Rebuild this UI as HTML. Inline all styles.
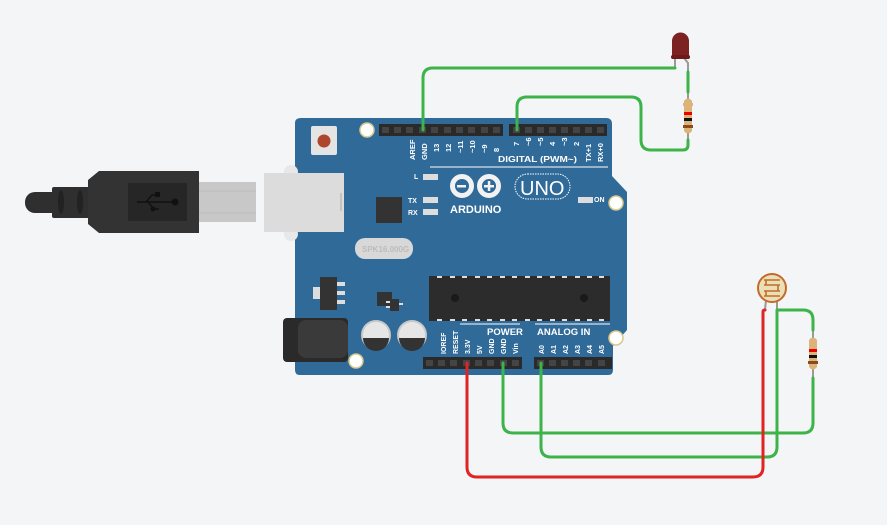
<!DOCTYPE html>
<html><head><meta charset="utf-8"><style>
html,body{margin:0;padding:0;background:#f3f5f7;}
svg{display:block;}
text{font-family:"Liberation Sans",sans-serif;font-weight:bold;fill:#fff;}
</style></head><body>
<svg width="887" height="525" viewBox="0 0 887 525" xmlns="http://www.w3.org/2000/svg">
<rect width="887" height="525" fill="#f3f5f7"/>
<!-- USB cable -->
<rect x="25" y="192" width="40" height="21" rx="10" fill="#2f2f2f"/>
<rect x="52" y="187" width="38" height="31" rx="2" fill="#2f2f2f"/>
<ellipse cx="61" cy="202" rx="3" ry="12" fill="#222"/>
<ellipse cx="80" cy="202" rx="3" ry="12" fill="#222"/>
<path d="M88 180 L99 171 H199 V233 H99 L88 224 Z" fill="#333"/>
<rect x="128" y="183" width="59" height="38" fill="#262626"/>
<g stroke="#111" stroke-width="1.5" fill="none"><line x1="137" y1="202" x2="175" y2="202"/><path d="M146 202 L152 195 H158"/><path d="M148 202 L154 209 H159"/></g>
<circle cx="175" cy="202" r="3.5" fill="#111"/><rect x="155" y="192" width="5" height="5" fill="#111"/><circle cx="153" cy="209" r="2.5" fill="#111"/>
<rect x="199" y="182" width="57" height="40" fill="#c8c8c8"/>
<line x1="199" y1="191" x2="256" y2="191" stroke="#bdbdbd"/><line x1="199" y1="213" x2="256" y2="213" stroke="#bdbdbd"/>
<!-- Board -->
<path d="M301 118 H606 Q612 118 612 124 V176 L627 192 V330 L613 346 V370 Q613 375 608 375 H300 Q295 375 295 370 V123 Q295 118 301 118 Z" fill="#2f6a99"/>
<!-- usb jack -->
<circle cx="291" cy="172" r="7" fill="#e8e8e8"/><circle cx="291" cy="234" r="7" fill="#e8e8e8"/>
<rect x="264" y="173" width="80" height="59" fill="#dcdcdc"/>
<line x1="341" y1="193" x2="341" y2="211" stroke="#aaa"/>
<!-- reset -->
<rect x="311" y="126" width="26" height="29" rx="2" fill="#e4e4e4"/>
<circle cx="324" cy="141" r="6.5" fill="#b0452d"/>
<!-- holes -->
<g fill="#fff" stroke="#d8c88a" stroke-width="1.5"><circle cx="367" cy="130" r="7"/><circle cx="616" cy="203" r="7"/><circle cx="616" cy="338" r="7"/><circle cx="356" cy="361" r="7"/></g>
<!-- headers top -->
<rect x="379" y="124" width="124" height="12" fill="#2a2a2a"/>
<rect x="509" y="124" width="98" height="12" fill="#2a2a2a"/>
<g fill="#444">
<rect x="382" y="127" width="7" height="6"/><rect x="394" y="127" width="7" height="6"/><rect x="406" y="127" width="7" height="6"/><rect x="419" y="127" width="7" height="6"/><rect x="431" y="127" width="7" height="6"/><rect x="444" y="127" width="7" height="6"/><rect x="456" y="127" width="7" height="6"/><rect x="468" y="127" width="7" height="6"/><rect x="481" y="127" width="7" height="6"/><rect x="493" y="127" width="7" height="6"/>
<rect x="513" y="127" width="7" height="6"/><rect x="525" y="127" width="7" height="6"/><rect x="537" y="127" width="7" height="6"/><rect x="549" y="127" width="7" height="6"/><rect x="561" y="127" width="7" height="6"/><rect x="573" y="127" width="7" height="6"/><rect x="585" y="127" width="7" height="6"/><rect x="597" y="127" width="7" height="6"/>
</g>
<g font-size="7.5">
<text transform="translate(415,160) rotate(-90)">AREF</text><text transform="translate(427,160) rotate(-90)">GND</text>
<text transform="translate(439,152) rotate(-90)">13</text><text transform="translate(451,152) rotate(-90)">12</text>
<text transform="translate(463,153) rotate(-90)">~11</text><text transform="translate(475,153) rotate(-90)">~10</text>
<text transform="translate(487,153) rotate(-90)">~9</text><text transform="translate(499,152) rotate(-90)">8</text>
<text transform="translate(519,146) rotate(-90)">7</text><text transform="translate(531,146) rotate(-90)">~6</text>
<text transform="translate(543,146) rotate(-90)">~5</text><text transform="translate(555,146) rotate(-90)">4</text>
<text transform="translate(567,146) rotate(-90)">~3</text><text transform="translate(579,146) rotate(-90)">2</text>
<text transform="translate(591,162) rotate(-90)">TX+1</text><text transform="translate(603,162) rotate(-90)">RX+0</text>
</g>
<text x="498" y="162" font-size="8.5" textLength="79" lengthAdjust="spacingAndGlyphs">DIGITAL (PWM~)</text>
<line x1="430" y1="167" x2="608" y2="167" stroke="#fff" stroke-width="1"/>
<!-- LEDs -->
<g font-size="7"><text x="414" y="179">L</text><text x="408" y="203">TX</text><text x="408" y="215">RX</text><text x="594" y="202">ON</text></g>
<g fill="#ddd"><rect x="423" y="174" width="15" height="6"/><rect x="423" y="197" width="15" height="6"/><rect x="423" y="209" width="15" height="6"/><rect x="578" y="197" width="15" height="6"/></g>
<!-- logo -->
<circle cx="462" cy="186" r="9.5" fill="none" stroke="#f2f2f2" stroke-width="5"/>
<circle cx="489" cy="186" r="9.5" fill="none" stroke="#f2f2f2" stroke-width="5"/>
<rect x="457" y="185" width="9" height="2.5" fill="#f2f2f2"/><rect x="484" y="185" width="10" height="2.5" fill="#f2f2f2"/><rect x="487.8" y="181" width="2.5" height="10" fill="#f2f2f2"/>
<text x="450" y="213" font-size="11" fill="#f2f2f2">ARDUINO</text>
<rect x="515" y="174" width="55" height="25" rx="12.5" fill="none" stroke="#fff" stroke-width="1" stroke-dasharray="1.5,1"/>
<text x="520" y="195" font-size="20" style="font-weight:normal">UNO</text>
<!-- chips -->
<rect x="376" y="197" width="26" height="26" fill="#333"/>
<rect x="355" y="238" width="58" height="21" rx="10" fill="#d8d8d8"/>
<text x="362" y="252" font-size="8" style="fill:#bcbcbc">SPK16.000G</text>
<rect x="377" y="292" width="15" height="14" fill="#333"/>
<rect x="390" y="299" width="9" height="12" fill="#333"/><rect x="386" y="301" width="4" height="2" fill="#ddd"/><rect x="386" y="306" width="4" height="2" fill="#ddd"/><rect x="399" y="303" width="4" height="2" fill="#ddd"/>
<rect x="313" y="287" width="7" height="12" fill="#ddd"/>
<rect x="320" y="277" width="17" height="33" fill="#333"/>
<rect x="337" y="282" width="8" height="4" fill="#ddd"/><rect x="337" y="291" width="8" height="4" fill="#ddd"/><rect x="337" y="300" width="8" height="4" fill="#ddd"/>
<rect x="429" y="276" width="181" height="45" fill="#2c2c2c"/>
<g fill="#ddd"><rect x="437" y="276" width="5" height="2"/><rect x="450" y="276" width="5" height="2"/><rect x="462" y="276" width="5" height="2"/><rect x="475" y="276" width="5" height="2"/><rect x="487" y="276" width="5" height="2"/><rect x="500" y="276" width="5" height="2"/><rect x="512" y="276" width="5" height="2"/><rect x="525" y="276" width="5" height="2"/><rect x="537" y="276" width="5" height="2"/><rect x="550" y="276" width="5" height="2"/><rect x="562" y="276" width="5" height="2"/><rect x="575" y="276" width="5" height="2"/><rect x="587" y="276" width="5" height="2"/><rect x="599" y="276" width="5" height="2"/>
<rect x="437" y="319" width="5" height="2"/><rect x="450" y="319" width="5" height="2"/><rect x="462" y="319" width="5" height="2"/><rect x="475" y="319" width="5" height="2"/><rect x="487" y="319" width="5" height="2"/><rect x="500" y="319" width="5" height="2"/><rect x="512" y="319" width="5" height="2"/><rect x="525" y="319" width="5" height="2"/><rect x="537" y="319" width="5" height="2"/><rect x="550" y="319" width="5" height="2"/><rect x="562" y="319" width="5" height="2"/><rect x="575" y="319" width="5" height="2"/><rect x="587" y="319" width="5" height="2"/><rect x="599" y="319" width="5" height="2"/></g>
<circle cx="455" cy="298" r="4" fill="#1a1a1a"/><circle cx="584" cy="298" r="4" fill="#1a1a1a"/>
<!-- power jack -->
<rect x="283" y="318" width="65" height="44" rx="4" fill="#2a2a2a"/>
<rect x="298" y="320" width="50" height="38" rx="8" fill="#3a3a3a"/>
<!-- caps -->
<circle cx="376" cy="335" r="15" fill="#c9c9c9"/><circle cx="376" cy="335" r="13" fill="#e6e6e6"/><path d="M363 338 H389 A13 13 0 0 1 363 338 Z" fill="#333"/>
<circle cx="412" cy="335" r="15" fill="#c9c9c9"/><circle cx="412" cy="335" r="13" fill="#e6e6e6"/><path d="M399 338 H425 A13 13 0 0 1 399 338 Z" fill="#333"/>
<!-- bottom labels -->
<text x="487" y="335" font-size="9.5">POWER</text><text x="537" y="335" font-size="9.5">ANALOG IN</text>
<line x1="460" y1="324" x2="520" y2="324" stroke="#fff"/><line x1="535" y1="324" x2="610" y2="324" stroke="#fff"/>
<g font-size="7">
<text transform="translate(446,354) rotate(-90)">IOREF</text><text transform="translate(458,354) rotate(-90)">RESET</text>
<text transform="translate(470,354) rotate(-90)">3.3V</text><text transform="translate(482,354) rotate(-90)">5V</text>
<text transform="translate(494,354) rotate(-90)">GND</text><text transform="translate(506,354) rotate(-90)">GND</text>
<text transform="translate(518,354) rotate(-90)">Vin</text>
<text transform="translate(544,354) rotate(-90)">A0</text><text transform="translate(556,354) rotate(-90)">A1</text>
<text transform="translate(568,354) rotate(-90)">A2</text><text transform="translate(580,354) rotate(-90)">A3</text>
<text transform="translate(592,354) rotate(-90)">A4</text><text transform="translate(604,354) rotate(-90)">A5</text>
</g>
<rect x="423" y="357" width="99" height="12" fill="#2a2a2a"/>
<rect x="534" y="357" width="78" height="12" fill="#2a2a2a"/>
<g fill="#444">
<rect x="426" y="360" width="7" height="6"/><rect x="438" y="360" width="7" height="6"/><rect x="450" y="360" width="7" height="6"/><rect x="463" y="360" width="7" height="6"/><rect x="475" y="360" width="7" height="6"/><rect x="487" y="360" width="7" height="6"/><rect x="500" y="360" width="7" height="6"/><rect x="512" y="360" width="7" height="6"/>
<rect x="537" y="360" width="7" height="6"/><rect x="549" y="360" width="7" height="6"/><rect x="561" y="360" width="7" height="6"/><rect x="573" y="360" width="7" height="6"/><rect x="585" y="360" width="7" height="6"/><rect x="598" y="360" width="7" height="6"/>
</g>
<!-- LED -->
<path d="M675 58 V68" stroke="#999" stroke-width="2" fill="none"/>
<path d="M684 58 L688 63 V72" stroke="#999" stroke-width="2" fill="none"/>
<path d="M672 59 V41 A8.5 8.5 0 0 1 689 41 V59 Z" fill="#7d2222"/>
<rect x="671" y="55" width="19" height="4" rx="2" fill="#6d1a1a"/>
<!-- resistor 1 -->
<line x1="688" y1="92" x2="688" y2="140" stroke="#999" stroke-width="2"/>
<path d="M684 101 Q688 96 692 101 V131 Q688 136 684 131 Z" fill="#dcb47a"/>
<rect x="683" y="103" width="10" height="3" fill="#dcb47a"/>
<rect x="684" y="112" width="8" height="3" fill="#e00"/><rect x="684" y="118" width="8" height="3" fill="#111"/><rect x="683" y="125" width="10" height="3" fill="#8a4b1e"/>
<!-- LDR -->
<path d="M766 300 L765 310 M777 300 V310" stroke="#999" stroke-width="2"/>
<circle cx="772" cy="288" r="14" fill="#e9e0b5" stroke="#c56a2c" stroke-width="2"/>
<path d="M764 280 H780 M764 285 H780 M764 291 H780 M764 296 H780 M766 280 V285 M778 285 V291 M766 291 V296" stroke="#c56a2c" stroke-width="1.6" fill="none"/>
<!-- resistor 2 -->
<line x1="813" y1="330" x2="813" y2="378" stroke="#999" stroke-width="2"/>
<path d="M809 340 Q813 335 817 340 V367 Q813 372 809 367 Z" fill="#dcb47a"/>
<rect x="809" y="349" width="8" height="3" fill="#e00"/><rect x="809" y="355" width="8" height="3" fill="#111"/><rect x="808" y="361" width="10" height="3" fill="#8a4b1e"/>
<!-- wires -->
<g fill="none" stroke-width="3" stroke-linejoin="round" stroke-linecap="round">
<path d="M423 130 V78 Q423 68 433 68 H675" stroke="#3cb44a"/>
<path d="M688 72 V92" stroke="#3cb44a"/>
<path d="M517 130 V107 Q517 97 527 97 H631 Q641 97 641 107 V140 Q641 150 651 150 H683 Q688 150 688 145 V140" stroke="#3cb44a"/>
<path d="M503 363 V423 Q503 433 513 433 H803 Q813 433 813 423 V378" stroke="#3cb44a"/>
<path d="M541 363 V447 Q541 457 551 457 H767 Q777 457 777 447 V310 H803 Q813 310 813 320 V330" stroke="#3cb44a"/>
<path d="M467 363 V467 Q467 477 477 477 H753 Q763 477 763 467 V312 Q763 310 765 310" stroke="#e02424"/>
</g>
</svg>
</body></html>
